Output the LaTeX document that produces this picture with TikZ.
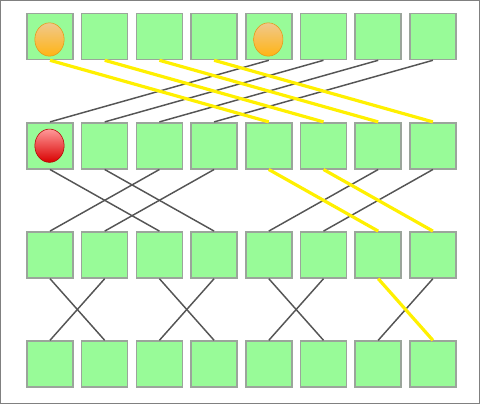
\documentclass[tikz,border=0pt]{standalone}
\usepackage{xcolor}
\usepackage{tikz}
\usetikzlibrary{shapes.geometric, calc}

\definecolor{cellgreen}{RGB}{152,251,152}
\definecolor{cellrim}{RGB}{155,165,155}
\definecolor{wiregray}{RGB}{85,85,85}
\definecolor{hotwire}{RGB}{255,240,0}
\definecolor{goldtop}{RGB}{240,200,140}
\definecolor{goldbot}{RGB}{255,180,20}
\definecolor{goldrim}{RGB}{230,150,20}

\begin{document}
\begin{tikzpicture}[ x = 0.75pt
                     , y = -0.75pt
                     , cell/.style = { rectangle
                                     , draw = cellrim
                                     , line width = 1.2pt
                                     , fill = cellgreen
                                     , inner sep = 0pt
                                     , minimum size = 34.5pt }
                     , wire/.style = { draw = wiregray, line width = 1.1pt }
                     , hot/.style = { draw = hotwire, line width = 2.4pt }
                     , token/.style = { ellipse
                                      , inner sep = 0pt
                                      , minimum width = 22pt
                                      , minimum height = 25pt }
                     ]

  \useasboundingbox (0,0) rectangle (480,404);
  \draw[gray, line width = 1pt] (0.7,0.7) rectangle (479.3,403.3);

  % the grid of switches
  \foreach \r in {0,...,3}
    \foreach \c in {0,...,7}
      \node[cell] (n\r\c) at ({50+54.7*\c}, {36.5+109.2*\r}) {};

  % gray connections
  \foreach \a/\b in {4/0, 5/1, 6/2, 7/3}
    \draw[wire] (n0\a.south) -- (n1\b.north);
  \foreach \a/\b in {0/2, 1/3, 2/0, 3/1, 6/4, 7/5}
    \draw[wire] (n1\a.south) -- (n2\b.north);
  \foreach \a/\b in {0/1, 1/0, 2/3, 3/2, 4/5, 5/4, 7/6}
    \draw[wire] (n2\a.south) -- (n3\b.north);

  % highlighted path
  \foreach \a/\b in {0/4, 1/5, 2/6, 3/7}
    \draw[hot] (n0\a.south) -- (n1\b.north);
  \foreach \a/\b in {4/6, 5/7}
    \draw[hot] (n1\a.south) -- (n2\b.north);
  \draw[hot] (n26.south) -- (n37.north);

  % tokens
  \node[token, draw = goldrim, top color = goldtop, bottom color = goldbot]
    (tokenA) at ($(n00)+(-0.5,3)$) {};
  \node[token, draw = goldrim, top color = goldtop, bottom color = goldbot]
    (tokenB) at ($(n04)+(-0.5,3)$) {};
  \node[token, draw = red!70!black, top color = red!40!white, bottom color = red!85!black]
    (tokenC) at ($(n10)+(-0.5,0)$) {};

\end{tikzpicture}
\end{document}
